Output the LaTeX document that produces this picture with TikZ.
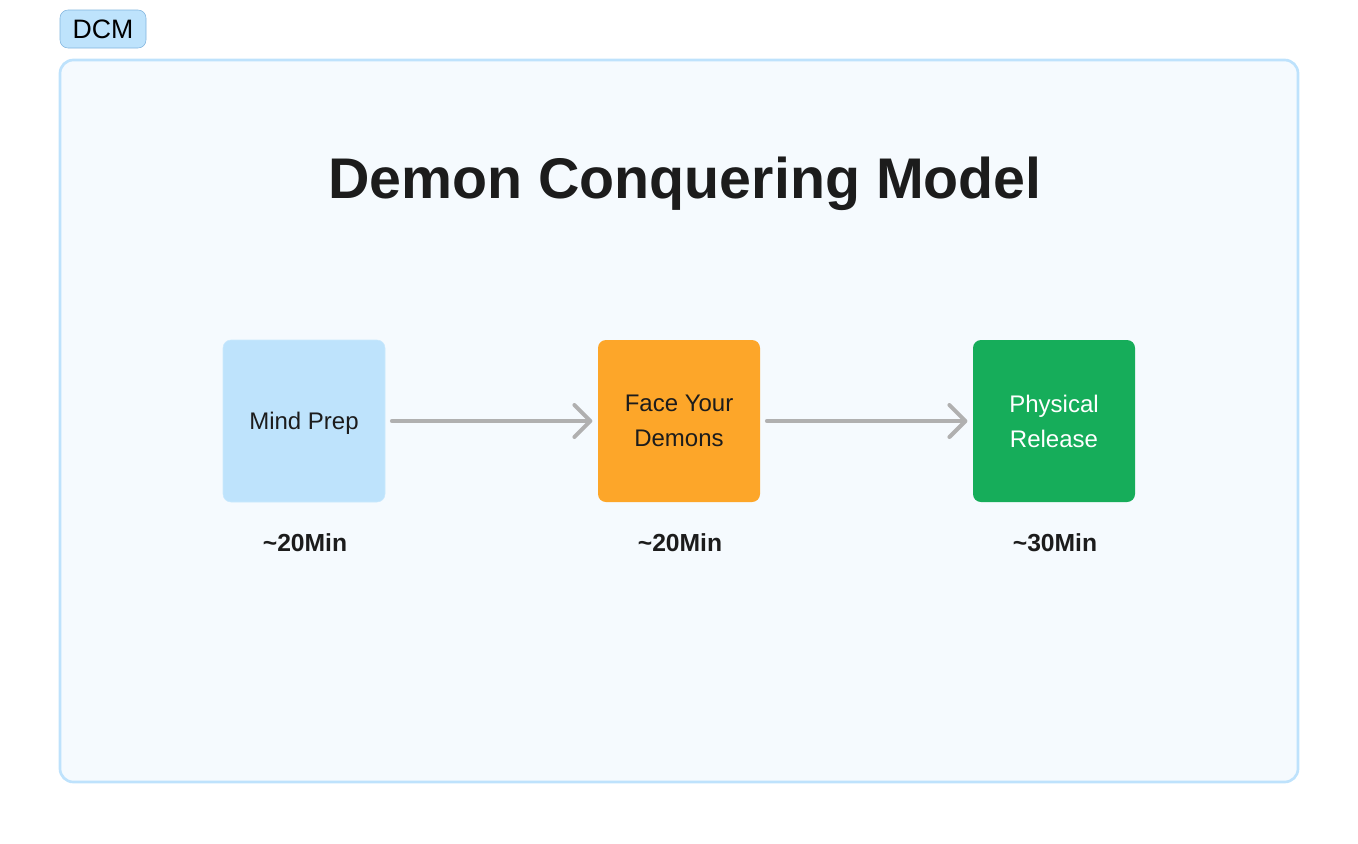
\documentclass[tikz,border=0pt]{standalone}
\usepackage{fontspec}
\setmainfont{Liberation Sans}
\usetikzlibrary{arrows.meta}
\definecolor{framefill}{RGB}{245,250,254}
\definecolor{frameline}{RGB}{190,226,252}
\definecolor{tagline}{RGB}{128,180,222}
\definecolor{prepblue}{RGB}{190,227,252}
\definecolor{faceorange}{RGB}{253,166,41}
\definecolor{releasegreen}{RGB}{22,173,90}
\definecolor{arrowgray}{RGB}{176,176,176}
\definecolor{inkdark}{RGB}{28,28,28}

\begin{document}
\begin{tikzpicture}[x=0.75pt,y=-0.75pt]

%
% Styles
%
\tikzstyle{stage}  = [rounded corners=6pt, minimum width=121.5pt, minimum height=121.5pt, text depth=0pt, align=center, font=\fontsize{18}{26.5}\selectfont, text=inkdark]
\tikzstyle{timing} = [font=\fontsize{18.5}{20}\selectfont\bfseries, text=inkdark]
\tikzstyle{edge}   = [-{Straight Barb[length=12pt,width=24pt,round]}, line width=3pt, line cap=round, draw=arrowgray]

\useasboundingbox (0,0) rectangle (1358,843);

% frame and tag
\draw[rounded corners=10pt, line width=2pt, draw=frameline, fill=framefill] (60,60) rectangle (1298,782);
\node[rounded corners=6pt, draw=tagline, fill=prepblue, minimum width=64.5pt, minimum height=28.5pt, font=\fontsize{20}{22}\selectfont] (tag) at (103,29) {DCM};

\node[font=\fontsize{43}{50}\selectfont\bfseries, text=inkdark] (title) at (685,184) {Demon Conquering Model};

% stages
\node[stage, fill=prepblue, draw=prepblue!80!white]     (prep)    at (304,421)  {Mind Prep};
\node[stage, fill=faceorange]                          (face)    at (679,421)  {Face Your\\Demons};
\node[stage, fill=releasegreen, text=white]            (release) at (1054,421) {Physical\\Release};

\node[timing] (tprep)    at (305,543)  {\textasciitilde20Min};
\node[timing] (tface)    at (680,543)  {\textasciitilde20Min};
\node[timing] (trelease) at (1055,543) {\textasciitilde30Min};

\draw[edge] ([xshift=5pt]prep.east) -- ([xshift=-4pt]face.west);
\draw[edge] ([xshift=5pt]face.east) -- ([xshift=-4pt]release.west);

\end{tikzpicture}
\end{document}
